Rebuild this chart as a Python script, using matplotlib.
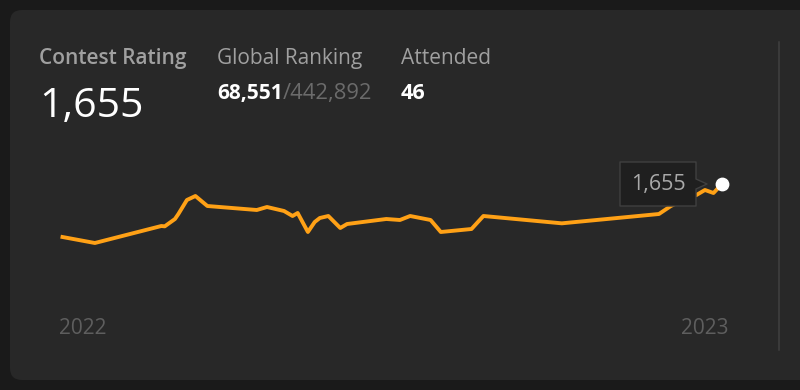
import numpy as np
import pandas as pd
import matplotlib
matplotlib.use("Agg")
import matplotlib.pyplot as plt
from matplotlib.patches import FancyBboxPatch, Polygon
from matplotlib.lines import Line2D
from matplotlib.transforms import IdentityTransform

# contest history
dates = ["2021-12-20", "2022-01-08", "2022-02-16", "2022-02-18", "2022-02-24",
         "2022-02-26", "2022-03-03", "2022-03-08", "2022-03-15", "2022-04-13",
         "2022-04-19", "2022-04-29", "2022-05-04", "2022-05-07", "2022-05-13",
         "2022-05-17", "2022-05-20", "2022-05-25", "2022-06-01", "2022-06-05",
         "2022-06-28", "2022-07-06", "2022-07-12", "2022-07-24", "2022-07-30",
         "2022-08-17", "2022-08-24", "2022-10-09", "2022-12-05", "2022-12-12",
         "2022-12-23", "2022-12-27", "2023-01-01", "2023-01-06", "2023-01-11"]
ratings = [1496, 1478, 1529, 1528, 1550, 1565, 1607, 1619, 1589, 1577,
           1586, 1574, 1559, 1568, 1511, 1541, 1553, 1559, 1523, 1535,
           1550, 1547, 1559, 1547, 1511, 1520, 1559, 1537, 1565, 1589,
           1616, 1622, 1637, 1628, 1655]
year_ticks = ["2022-01-01", "2023-01-01"]
year_labels = ["2022", "2023"]

contest_rating = "1,655"
global_rank = "68,551"
total_users = "442,892"
attended = "46"

x = pd.to_datetime(dates)
W, H = 800, 390
FONT = ["Open Sans", "DejaVu Sans"]

fig = plt.figure(figsize=(W / 100, H / 100), dpi=100)
fig.patch.set_facecolor("#1a1a1a")

# card
card = FancyBboxPatch((10, 10), 820, 370, boxstyle="round,pad=0,rounding_size=12",
                      facecolor="#282828", edgecolor="none", transform=IdentityTransform(),
                      zorder=-2)
fig.add_artist(card)
fig.add_artist(Line2D([779, 779], [H - 42, H - 350], color="#3a3a3a", lw=1.5,
                      solid_capstyle="round", transform=IdentityTransform(), zorder=-1))

def fx(px):
    return px / W

def fy(py):
    return 1 - py / H

gray = "#a0a0a0"
fig.text(fx(39), fy(64), "Contest Rating", color=gray, fontsize=15, fontweight="semibold",
         family=FONT, va="baseline")
fig.text(fx(39), fy(117), contest_rating, color="white", fontsize=29.5, family=FONT, va="baseline")
fig.text(fx(217), fy(64), "Global Ranking", color=gray, fontsize=15, family=FONT, va="baseline")
t1 = fig.text(fx(217), fy(99), global_rank, color="white", fontsize=15, fontweight="bold",
              family=FONT, va="baseline")
fig.text(fx(401), fy(64), "Attended", color=gray, fontsize=15, family=FONT, va="baseline")
fig.text(fx(401), fy(99), attended, color="white", fontsize=15.5, fontweight="bold",
         family=FONT, va="baseline")
fig.canvas.draw()
bb = t1.get_window_extent()
fig.text(bb.x1 / W, fy(99), "/" + total_users, color="#6b6b6b", fontsize=15.8,
         family=FONT, va="baseline")

# chart area
ax = fig.add_axes([fx(40), fy(305), 720 / W, 165 / H])
ax.set_facecolor("none")
t0 = pd.Timestamp("2022-01-01")
ax.set_xlim(t0 - pd.Timedelta(days=25.2), t0 + pd.Timedelta(days=397.3))
ax.set_ylim(1292, 1787)
ax.plot(x, ratings, color="#ffa116", lw=2.8, solid_joinstyle="round", zorder=2)
ax.scatter([x[-1]], [ratings[-1]], s=80, color="white", zorder=5)
for s in ax.spines.values():
    s.set_visible(False)
ax.set_yticks([])
ax.set_xticks(pd.to_datetime(year_ticks))
ax.set_xticklabels(year_labels, color="#5e5e5e", fontsize=15, family=FONT)
ax.tick_params(axis="x", length=0, pad=9)

# tooltip
fig.canvas.draw()
px, py = ax.transData.transform((matplotlib.dates.date2num(x[-1]), ratings[-1]))
left, right, top, bot = px - 102, px - 26, py + 22, py - 22
tip = [(left, top), (right, top), (right, py + 5), (px - 15, py), (right, py - 5),
       (right, bot), (left, bot)]
fig.add_artist(Polygon(tip, closed=True, facecolor="#1f1f1f", edgecolor="#404040",
                       lw=1, joinstyle="round", transform=IdentityTransform(), zorder=3))
fig.text((px - 64) / W, py / H, contest_rating, color="#a9a9a9", fontsize=15.5, family=FONT,
         ha="center", va="center", zorder=4)

fig.savefig("out.png", dpi=100, facecolor=fig.get_facecolor())
